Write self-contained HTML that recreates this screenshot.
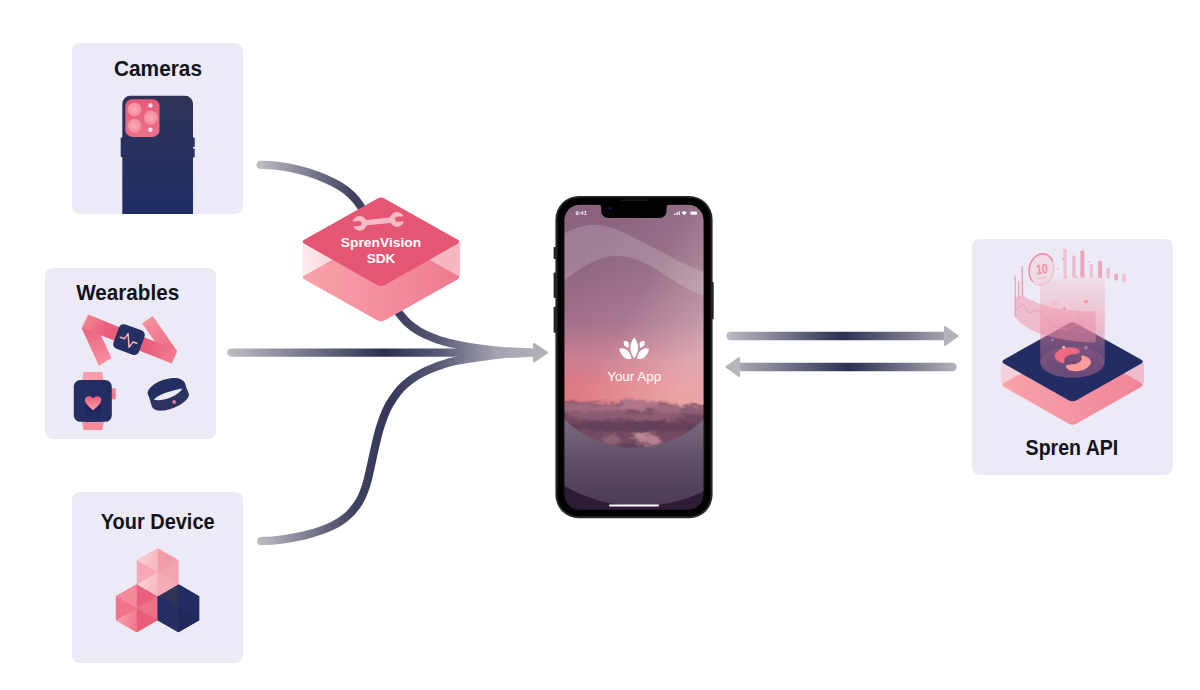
<!DOCTYPE html>
<html lang="en">
<head>
<meta charset="utf-8">
<title>Spren Architecture</title>
<style>
html,body{margin:0;padding:0;background:#fff;}
body{width:1200px;height:690px;overflow:hidden;font-family:"Liberation Sans",sans-serif;}
svg{display:block;}
text{font-family:"Liberation Sans",sans-serif;}
.title{font-weight:bold;font-size:22px;fill:#12131c;}
</style>
</head>
<body>
<svg width="1200" height="690" viewBox="0 0 1200 690">
<defs>
  <linearGradient id="gFlowTop" gradientUnits="userSpaceOnUse" x1="258" y1="0" x2="548" y2="0">
    <stop offset="0" stop-color="#bdbdc5"/><stop offset="0.33" stop-color="#40435f"/><stop offset="0.45" stop-color="#34375a"/><stop offset="0.62" stop-color="#585a76"/><stop offset="0.82" stop-color="#a3a3b0"/><stop offset="1" stop-color="#b2b2ba"/>
  </linearGradient>
  <linearGradient id="gFlowMid" gradientUnits="userSpaceOnUse" x1="228" y1="0" x2="548" y2="0">
    <stop offset="0" stop-color="#bdbdc5"/><stop offset="0.49" stop-color="#2c2f50"/><stop offset="0.66" stop-color="#585a76"/><stop offset="0.84" stop-color="#a3a3b0"/><stop offset="1" stop-color="#b2b2ba"/>
  </linearGradient>
  <linearGradient id="gArrR" gradientUnits="userSpaceOnUse" x1="727" y1="0" x2="958" y2="0">
    <stop offset="0" stop-color="#bdbdc5"/><stop offset="0.5" stop-color="#2c2f50"/><stop offset="1" stop-color="#b2b2ba"/>
  </linearGradient>
  <linearGradient id="gArrR2" gradientUnits="userSpaceOnUse" x1="727" y1="0" x2="958" y2="0">
    <stop offset="0" stop-color="#b5b5bd"/><stop offset="0.53" stop-color="#2c2f50"/><stop offset="1" stop-color="#b5b5bd"/>
  </linearGradient>
  <linearGradient id="gPhoneBack" x1="0" y1="0" x2="0" y2="1">
    <stop offset="0" stop-color="#2f3358"/><stop offset="1" stop-color="#1f2d66"/>
  </linearGradient>

  <linearGradient id="gBump" x1="0" y1="0" x2="0" y2="1">
    <stop offset="0" stop-color="#e55b7a"/><stop offset="1" stop-color="#ee7088"/>
  </linearGradient>
  <radialGradient id="gLens" cx="0.5" cy="0.5" r="0.5">
    <stop offset="0" stop-color="#f8aab4"/><stop offset="1" stop-color="#f48c9c"/>
  </radialGradient>

  <linearGradient id="gStrapL" gradientUnits="userSpaceOnUse" x1="90" y1="325" x2="104" y2="362">
    <stop offset="0" stop-color="#e9607d"/><stop offset="1" stop-color="#f68e9e"/>
  </linearGradient>
  <linearGradient id="gStrapR" gradientUnits="userSpaceOnUse" x1="148" y1="318" x2="172" y2="358">
    <stop offset="0" stop-color="#f7929f"/><stop offset="1" stop-color="#ea627e"/>
  </linearGradient>
  <linearGradient id="gStrapM" gradientUnits="userSpaceOnUse" x1="86" y1="320" x2="174" y2="357">
    <stop offset="0" stop-color="#f4808f"/><stop offset="0.25" stop-color="#e85e7b"/><stop offset="0.7" stop-color="#e85e7b"/><stop offset="1" stop-color="#f27c90"/>
  </linearGradient>
  <linearGradient id="gHeart" x1="0" y1="0" x2="0" y2="1">
    <stop offset="0" stop-color="#e85e7b"/><stop offset="1" stop-color="#f9a0a8"/>
  </linearGradient>

  <linearGradient id="gSdkBot" gradientUnits="userSpaceOnUse" x1="302" y1="0" x2="460" y2="0">
    <stop offset="0" stop-color="#f9a3aa"/><stop offset="1" stop-color="#ee7a8f"/>
  </linearGradient>
  <linearGradient id="gSdkWallL" gradientUnits="userSpaceOnUse" x1="302" y1="0" x2="333" y2="0">
    <stop offset="0" stop-color="#fdeef0"/><stop offset="1" stop-color="#f9d3da"/>
  </linearGradient>

  <linearGradient id="gFrame" x1="0" y1="0" x2="1" y2="0">
    <stop offset="0" stop-color="#33353d"/><stop offset="0.03" stop-color="#15161a"/><stop offset="0.97" stop-color="#15161a"/><stop offset="1" stop-color="#33353d"/>
  </linearGradient>
  <linearGradient id="gSkyV" gradientUnits="userSpaceOnUse" x1="0" y1="204" x2="0" y2="404">
    <stop offset="0" stop-color="#8a6280"/><stop offset="0.3" stop-color="#8f667f"/><stop offset="0.6" stop-color="#a26d8a"/><stop offset="0.78" stop-color="#c87a8d"/><stop offset="0.9" stop-color="#dc747f"/><stop offset="1" stop-color="#dc7279"/>
  </linearGradient>
  <linearGradient id="gSkyH" gradientUnits="userSpaceOnUse" x1="574" y1="270" x2="704" y2="345">
    <stop offset="0" stop-color="#ffe6e0" stop-opacity="0"/><stop offset="0.45" stop-color="#ffe6e0" stop-opacity="0.08"/><stop offset="1" stop-color="#ffe6e0" stop-opacity="0.42"/>
  </linearGradient>
  <filter id="fCloud" x="-5%" y="-10%" width="110%" height="120%">
    <feTurbulence type="fractalNoise" baseFrequency="0.09 0.16" numOctaves="3" seed="7" result="n"/>
    <feGaussianBlur in="SourceGraphic" stdDeviation="1.6" result="b"/>
    <feDisplacementMap in="b" in2="n" scale="9" xChannelSelector="R" yChannelSelector="G"/>
  </filter>
  <clipPath id="clipLower"><rect x="550" y="398" width="170" height="125"/></clipPath>
  <linearGradient id="gOverlay" gradientUnits="userSpaceOnUse" x1="0" y1="415" x2="0" y2="505">
    <stop offset="0" stop-color="#7f7187"/><stop offset="0.5" stop-color="#5f5068"/><stop offset="1" stop-color="#483b52"/>
  </linearGradient>

  <linearGradient id="gApiBot" gradientUnits="userSpaceOnUse" x1="1000" y1="0" x2="1145" y2="0">
    <stop offset="0" stop-color="#f9a3aa"/><stop offset="1" stop-color="#ef8498"/>
  </linearGradient>
  <linearGradient id="gBeam" gradientUnits="userSpaceOnUse" x1="0" y1="272" x2="0" y2="378">
    <stop offset="0" stop-color="#f4a9b9" stop-opacity="0"/><stop offset="0.12" stop-color="#f4a9b9" stop-opacity="0.3"/><stop offset="0.5" stop-color="#ee89a0" stop-opacity="0.5"/><stop offset="0.75" stop-color="#d57a9a" stop-opacity="0.4"/><stop offset="1" stop-color="#b56a92" stop-opacity="0.3"/>
  </linearGradient>
  <linearGradient id="gHShadow" gradientUnits="userSpaceOnUse" x1="0" y1="402" x2="0" y2="422">
    <stop offset="0" stop-color="#19234f"/><stop offset="1" stop-color="#222e68"/>
  </linearGradient>
  <linearGradient id="gHexLt" gradientUnits="userSpaceOnUse" x1="137" y1="584" x2="158" y2="590">
    <stop offset="0" stop-color="#fbd0d5"/><stop offset="1" stop-color="#f5aab6"/>
  </linearGradient>
  <linearGradient id="gHexLt2" gradientUnits="userSpaceOnUse" x1="140" y1="558" x2="158" y2="566">
    <stop offset="0" stop-color="#fbccd2"/><stop offset="1" stop-color="#f7b4be"/>
  </linearGradient>
  <linearGradient id="gHexBl" gradientUnits="userSpaceOnUse" x1="116" y1="621" x2="137" y2="626">
    <stop offset="0" stop-color="#f8a3ab"/><stop offset="1" stop-color="#ef748b"/>
  </linearGradient>
</defs>

<!-- cards -->
<rect x="72" y="43" width="171" height="171" rx="8" fill="#eceaf6"/>
<rect x="45" y="268" width="171" height="171" rx="8" fill="#eceaf6"/>
<rect x="72" y="492" width="171" height="171" rx="8" fill="#eceaf6"/>
<rect x="972" y="239" width="201" height="236" rx="8" fill="#eceaf6"/>

<text class="title" x="114" y="75.8" textLength="88" lengthAdjust="spacingAndGlyphs">Cameras</text>
<text class="title" x="76.2" y="299.7" textLength="103" lengthAdjust="spacingAndGlyphs">Wearables</text>
<text class="title" x="100.7" y="528.6" textLength="113.9" lengthAdjust="spacingAndGlyphs">Your Device</text>
<text class="title" x="1025.6" y="455" textLength="92.7" lengthAdjust="spacingAndGlyphs">Spren API</text>


<!-- CAMERA PHONE -->
<g id="camphone">
  <clipPath id="clipCard1"><rect x="72" y="43" width="171" height="171" rx="8"/></clipPath>
  <g clip-path="url(#clipCard1)">
    <rect x="120.7" y="137.5" width="3" height="19.5" rx="0.8" fill="#2a3160"/>
    <rect x="191.5" y="137.5" width="3.2" height="9.5" rx="0.8" fill="#2a3160"/>
    <rect x="191.5" y="148.4" width="3.2" height="9.2" rx="0.8" fill="#2a3160"/>
    <path d="M122.3,220 V103.8 a8,8 0 0 1 8,-8 h54.7 a8,8 0 0 1 8,8 V220 Z" fill="url(#gPhoneBack)"/>
    <rect x="125.4" y="99.3" width="34.1" height="37.6" rx="7" fill="url(#gBump)"/>
    <circle cx="134.5" cy="109.4" r="7" fill="url(#gLens)"/>
    <circle cx="134.5" cy="125.7" r="7" fill="url(#gLens)"/>
    <circle cx="150.8" cy="117.6" r="7" fill="url(#gLens)"/>
    <circle cx="150.4" cy="105.4" r="2.2" fill="#fde9ec"/>
    <circle cx="150.4" cy="129.7" r="2.2" fill="#fde9ec"/>
  </g>
</g>


<!-- WEARABLES -->
<g id="wearables">
  <!-- chest strap -->
  <polygon points="82.3,328 94,322 110.8,357.8 99.2,364.9" fill="url(#gStrapL)" stroke="url(#gStrapL)" stroke-width="1.2" stroke-linejoin="round"/>
  <polygon points="142.8,323.4 152.7,316.8 176,350.5 170.8,362.6" fill="url(#gStrapR)" stroke="url(#gStrapR)" stroke-width="1.2" stroke-linejoin="round"/>
  <path d="M88.2,314.6 L176.4,350.3 Q177.2,351.5 176.6,352.8 L171.8,363.6 L81.9,327.8 Z" fill="url(#gStrapM)"/>
  <g transform="translate(129,339.6) rotate(20)">
    <rect x="-13.6" y="-13" width="27.2" height="26" rx="5" fill="#252f62"/>
    <path d="M-9,0.8 L-4.6,0.7 L-2.9,-5.3 L2.7,7.3 L4.6,0.8 L8.6,0.8" fill="none" stroke="#f9b4b8" stroke-width="1.5" stroke-linejoin="round" stroke-linecap="round"/>
  </g>
  <!-- watch -->
  <path d="M83.6,372 h18.6 l1.6,9 h-21.8 Z" fill="#f99ea7"/>
  <path d="M82,421 h21.8 l-1.4,9 h-19 Z" fill="#f68d9b"/>
  <rect x="111" y="388.3" width="4.8" height="11.2" rx="1.2" fill="#f27d8f"/>
  <rect x="73.8" y="380.1" width="38" height="41.7" rx="6.5" fill="#232e63"/>
  <polygon points="85.3,402 100.9,402 100.9,421.8 85.3,421.8" fill="url(#gHShadow)"/>
  <path transform="translate(0,0.9)" d="M93.1,409.3 C87,404.6 84.9,401.6 84.9,398.9 C84.9,395.2 90.3,393.8 93.1,397.4 C95.9,393.8 101.3,395.2 101.3,398.9 C101.3,401.6 99.2,404.6 93.1,409.3 Z" fill="url(#gHeart)"/>
  <!-- ring -->
  <path d="M148,393.5 C149,386 160,379 172.6,378 C179,377.6 183.5,379.5 184.9,383.8 L188.9,393.9 C189.8,400 176,409.5 161.7,410.6 C155.5,411 152.8,409 151.6,405.5 Z" fill="#2b3360"/>
  <ellipse cx="166.5" cy="389" rx="19.4" ry="9" transform="rotate(-15 166.5 389)" fill="#232e63"/>
  <path d="M153.8,399.7 C158,395 168,391 182.4,388.5 C180,393 172,398 164,399.5 C160,400.3 156,400.3 153.8,399.7 Z" fill="#eceaf6"/>
  <circle cx="174.1" cy="402" r="1.9" fill="#f4788c"/>
</g>


<!-- HEXAGONS -->
<g id="hexes">
  <polygon points="136.7,584.3 157.5,596.3 157.5,620.3 136.7,632.3 115.9,620.3 115.9,596.3" fill="#ee7189"/>
  <polygon points="136.7,608.3 136.7,584.3 157.5,596.3" fill="#ea6180"/>
  <polygon points="136.7,608.3 157.5,596.3 157.5,620.3" fill="#ee7189"/>
  <polygon points="136.7,608.3 157.5,620.3 136.7,632.3" fill="#e95d7b"/>
  <polygon points="136.7,608.3 136.7,632.3 115.9,620.3" fill="url(#gHexBl)"/>
  <polygon points="136.7,608.3 115.9,620.3 115.9,596.3" fill="#ef748b"/>
  <polygon points="136.7,608.3 115.9,596.3 136.7,584.3" fill="#f48a98"/>
  <polygon points="178.4,584.3 199.2,596.3 199.2,620.3 178.4,632.3 157.6,620.3 157.6,596.3" fill="#232d62"/>
  <polygon points="178.4,608.3 178.4,584.3 199.2,596.3" fill="#222d64"/>
  <polygon points="178.4,608.3 199.2,596.3 199.2,620.3" fill="#212c62"/>
  <polygon points="178.4,608.3 199.2,620.3 178.4,632.3" fill="#1e285a"/>
  <polygon points="178.4,608.3 178.4,632.3 157.6,620.3" fill="#252f62"/>
  <polygon points="178.4,608.3 157.6,620.3 157.6,596.3" fill="#242e62"/>
  <polygon points="178.4,608.3 157.6,596.3 178.4,584.3" fill="#2f3358"/>
  <polygon points="157.7,548.3 178.5,560.3 178.5,584.3 157.7,596.3 136.9,584.3 136.9,560.3" fill="#f5a7b4"/>
  <polygon points="157.7,572.3 157.7,548.3 178.5,560.3" fill="#f39cab"/>
  <polygon points="157.7,572.3 178.5,560.3 178.5,584.3" fill="#f4a3b0"/>
  <polygon points="157.7,572.3 178.5,584.3 157.7,596.3" fill="#f29aaa"/>
  <polygon points="157.7,572.3 157.7,596.3 136.9,584.3" fill="url(#gHexLt)"/>
  <polygon points="157.7,572.3 136.9,584.3 136.9,560.3" fill="#f5a7b4"/>
  <polygon points="157.7,572.3 136.9,560.3 157.7,548.3" fill="url(#gHexLt2)"/>
  <polygon points="157.7,596.3 136.9,584.3 157.7,572.3 178.5,584.3" fill="#fbd3d8" opacity="0.3"/>
</g>

<!-- FLOW -->
<g id="flow" fill="none" stroke-linecap="round" stroke-width="8.2">
  <path d="M260.6,164.9 C262.7,165.0 268.3,164.8 273.3,165.3 C278.3,165.8 285.0,166.7 290.8,167.9 C296.6,169.1 302.5,170.6 308.3,172.4 C314.1,174.2 320.6,176.6 325.8,178.9 C331.1,181.2 335.5,183.3 339.8,186.0 C344.1,188.7 348.0,191.6 351.5,195.0 C355.0,198.4 358.3,202.3 360.8,206.5 C363.3,210.7 364.8,214.7 366.5,220.0 C368.2,225.3 369.5,231.8 371.0,238.3 C372.5,244.8 373.9,252.4 375.4,258.9 C376.9,265.4 378.1,271.5 380.0,277.4 C381.9,283.3 384.3,289.9 386.5,294.5 C388.7,299.1 390.7,301.7 393.0,305.0 C395.3,308.3 397.5,311.4 400.1,314.5 C402.7,317.6 405.7,321.1 408.8,323.9 C411.9,326.7 414.9,328.8 419.0,331.2 C423.1,333.6 428.7,336.1 433.5,338.0 C438.3,339.9 443.2,341.3 448.0,342.6 C452.8,343.9 457.2,344.7 462.5,345.7 C467.8,346.7 473.4,347.6 480.0,348.5 C486.6,349.4 493.7,350.3 502.0,351.0 C510.3,351.7 525.3,352.2 530.0,352.5" stroke="url(#gFlowTop)"/>
  <path d="M261.2,541.0 C263.0,540.9 268.1,540.9 272.0,540.6 C275.9,540.3 278.8,540.1 284.8,539.1 C290.8,538.1 300.3,536.6 308.0,534.5 C315.7,532.4 324.6,529.5 331.2,526.4 C337.8,523.3 342.8,520.1 347.4,516.0 C352.0,511.9 355.9,507.0 359.0,502.0 C362.1,497.0 364.1,491.6 366.0,485.8 C367.9,480.0 369.1,473.8 370.6,467.2 C372.1,460.6 373.6,453.0 375.2,446.4 C376.8,439.8 378.0,434.0 379.9,427.8 C381.8,421.6 384.5,414.3 386.8,409.3 C389.1,404.3 391.1,401.5 393.5,398.0 C395.9,394.5 398.2,391.3 401.0,388.3 C403.8,385.3 407.2,382.5 410.5,380.0 C413.8,377.5 417.1,375.6 421.0,373.5 C424.9,371.4 428.9,369.5 434.2,367.5 C439.5,365.5 445.6,363.2 453.0,361.5 C460.4,359.8 470.2,358.5 478.3,357.3 C486.4,356.1 493.1,355.1 501.7,354.3 C510.3,353.5 525.3,353.0 530.0,352.7" stroke="url(#gFlowTop)"/>
  <path d="M231.3,352.6 L536,352.6" stroke="url(#gFlowMid)"/>
</g>
<polygon points="534,343.9 547,352.6 534,361.3" fill="#b0b0b8" stroke="#b0b0b8" stroke-width="2" stroke-linejoin="round"/>


<!-- SDK BOX -->
<g id="sdk">
  <!-- bottom face -->
  <path d="M377.1,234.1 Q381.0,231.9 384.9,234.1 L457.4,275.0 Q461.3,277.2 457.4,279.4 L384.9,320.3 Q381.0,322.5 377.1,320.3 L304.6,279.4 Q300.7,277.2 304.6,275.0 Z" fill="url(#gSdkBot)"/>
  <!-- side translucent walls (visible outside bottom face) -->
  <path d="M301.9,242.6 L333,259.6 L303.8,275.7 Q301.9,276.7 301.9,274.6 Z" fill="url(#gSdkWallL)"/>
  <path d="M460.1,242.6 L429,259.6 L458.2,275.7 Q460.1,276.7 460.1,274.6 Z" fill="#f6b6c4"/>
  <!-- top face -->
  <path d="M377.1,198.7 Q381.0,196.5 384.9,198.7 L457.4,239.6 Q461.3,241.8 457.4,244.0 L384.9,284.9 Q381.0,287.1 377.1,284.9 L304.6,244.0 Q300.7,241.8 304.6,239.6 Z" fill="#e55673"/>
  <!-- wrench -->
  <g transform="translate(378.3,221.4) rotate(-6.1)" fill="#f8bac7">
    <rect x="-16" y="-2.7" width="32" height="5.4"/>
    <path d="M-25.66,-2.5 A7.3,7.3 0 1 1 -25.66,2.5 L-19.40,2.5 A2.5,2.5 0 0 0 -19.40,-2.5 Z"/>
    <path d="M25.66,-2.5 A7.3,7.3 0 1 0 25.66,2.5 L19.40,2.5 A2.5,2.5 0 0 1 19.40,-2.5 Z"/>
  </g>
  <text x="381" y="246.6" text-anchor="middle" font-size="13.6" font-weight="bold" fill="#fff" textLength="80.5" lengthAdjust="spacingAndGlyphs">SprenVision</text>
  <text x="381" y="263.4" text-anchor="middle" font-size="13.6" font-weight="bold" fill="#fff">SDK</text>
</g>


<!-- API ILLUSTRATION -->
<g id="api">
  <!-- bottom pink slab -->
  <path d="M1068.2,346.5 Q1072.6,344.0 1077.0,346.5 L1140.6,382.3 Q1145.0,384.8 1140.7,387.3 L1076.9,423.5 Q1072.6,426.0 1068.3,423.5 L1004.5,387.3 Q1000.2,384.8 1004.6,382.3 Z" fill="url(#gApiBot)"/>
  <path d="M1001.4,362.4 L1020.6,373.2 L1003.2,383.2 Q1001.2,384.2 1001.2,382 Z" fill="#f4d0da"/>
  <path d="M1143.8,362.4 L1124.6,373.2 L1142,383.2 Q1144,384.200 1144,382 Z" fill="#f0bccb"/>
  <!-- navy top -->
  <path d="M1068.2,323.7 Q1072.6,321.3 1077.0,323.7 L1140.6,359.2 Q1145.0,361.6 1140.6,364.1 L1077.0,400.1 Q1072.6,402.6 1068.2,400.1 L1004.6,364.1 Q1000.2,361.6 1004.6,359.2 Z" fill="#222d63"/>
  <!-- base ellipse & logo -->
  <ellipse cx="1072.500" cy="362.300" rx="32.300" ry="15.500" fill="#463a6b"/>
  <ellipse cx="1072.500" cy="360" rx="26" ry="11.500" fill="#3f3466" opacity="0.6"/>
  <!-- curved panel -->
  <path d="M1015.200,297.400 L1023,295.700 C1030,300 1040,304.500 1052,307.500 C1066,310.500 1082,311.300 1095.700,311.300 L1095.700,342.600 C1080,342.600 1062,340 1046,335.500 C1032,331.500 1020,324 1015.200,316.500 Z" fill="#ee8ea3" opacity="0.5"/>
  <path d="M1017,309 L1023,304 L1029,313 L1038,309.500 L1052,326 L1066,329.500 L1088,318.500" fill="none" stroke="#ee8a9e" stroke-width="0.8" opacity="0.7"/>
  <rect x="1014.600" y="275.500" width="1.300" height="41" fill="#ef97a8" opacity="0.85"/>
  <rect x="1018" y="281" width="1.300" height="17" fill="#ef97a8" opacity="0.85"/>
  <rect x="1021.500" y="266" width="1.500" height="30" fill="#ef97a8" opacity="0.85"/>
  <!-- beam -->
  <path d="M1040.200,272 H1104.800 V362.300 a32.300,15.500 0 0 1 -64.600,0 Z" fill="url(#gBeam)"/>
  <path d="M1079.2,350.3 C1078.4,349.5 1076.5,348.2 1074.3,347.7 C1072.2,347.3 1069.1,347.3 1066.5,347.7 C1063.9,348.2 1060.7,349.2 1058.7,350.5 C1056.7,351.9 1054.9,354.0 1054.7,355.7 C1054.5,357.4 1055.9,359.5 1057.5,360.8 C1059.0,362.0 1062.8,363.5 1063.9,363.2 C1065.1,362.9 1063.7,360.4 1064.4,359.0 C1065.2,357.7 1066.8,356.1 1068.6,355.2 C1070.4,354.4 1073.5,354.4 1075.2,354.0 C1077.0,353.6 1078.4,353.6 1079.0,353.0 C1079.7,352.3 1080.0,351.2 1079.2,350.3Z" fill="#ee6a82"/>
  <path d="M1066.2,367.4 C1066.8,368.3 1068.4,369.9 1070.3,370.5 C1072.3,371.2 1075.2,371.5 1077.8,371.2 C1080.4,370.9 1083.8,370.1 1086.0,368.8 C1088.2,367.4 1090.5,364.9 1090.9,363.0 C1091.2,361.2 1089.8,359.1 1088.3,357.8 C1086.8,356.6 1083.0,355.2 1081.8,355.6 C1080.7,355.9 1082.3,358.8 1081.5,360.1 C1080.7,361.4 1078.8,362.8 1077.0,363.6 C1075.1,364.3 1072.1,364.3 1070.3,364.6 C1068.6,364.9 1067.2,364.8 1066.5,365.3 C1065.8,365.8 1065.5,366.5 1066.2,367.4Z" fill="#fc9c9c"/>
  <!-- bars -->
  <g fill="#ee8ea3">
    <rect x="1063.400" y="249" width="3.500" height="29.600" opacity="0.42"/>
    <rect x="1072.100" y="256" width="3.500" height="21.600" opacity="0.45"/>
    <rect x="1080.400" y="250.800" width="3.900" height="26.800" opacity="0.75"/>
    <rect x="1089.500" y="264.300" width="3.500" height="13.300" opacity="0.45"/>
    <rect x="1098.200" y="260.900" width="3.800" height="17" opacity="0.75"/>
    <rect x="1106.500" y="267.800" width="3.500" height="10.800" opacity="0.45"/>
    <rect x="1114.500" y="273.900" width="3.500" height="6.400" opacity="0.7"/>
    <rect x="1122.200" y="273.900" width="3.500" height="7.800" opacity="0.45"/>
  </g>
  <!-- circle 10 -->
  <g transform="translate(1041.500,269.500) rotate(12)">
    <ellipse cx="0" cy="0" rx="12.300" ry="15.800" fill="#f3cdd8" fill-opacity="0.55" stroke="#f0a3b3" stroke-width="0.700"/>
    <path d="M-6.150,13.680 A12.300,15.800 0 1 1 9.420,-10.160" fill="none" stroke="#ee8a9d" stroke-width="1.400"/>
  </g>
  <text x="1041.900" y="273.800" text-anchor="middle" font-size="14" font-weight="bold" fill="#ee8fa1" textLength="11.600" lengthAdjust="spacingAndGlyphs" transform="rotate(-7 1041.900 269)">10</text>
  <path d="M1037.400,278.800 L1046.200,277" stroke="#ee8fa1" stroke-width="0.900" stroke-dasharray="1.200 0.500" fill="none" opacity="0.9"/>
  <!-- dots -->
  <g fill="#f98f8f">
    <circle cx="1086" cy="301.400" r="1.900" opacity="0.9"/>
    <circle cx="1064.300" cy="308.500" r="1.500" opacity="0.8"/>
    <circle cx="1055" cy="303.300" r="2.600" fill="#f7b7c0" opacity="0.8"/>
    <circle cx="1074" cy="314.500" r="1.700" fill="#f7b7c0" opacity="0.7"/>
    <circle cx="1063" cy="259" r="1" opacity="0.7"/>
    <circle cx="1058" cy="269" r="0.800" opacity="0.7"/>
    <circle cx="1089" cy="262" r="0.800" opacity="0.7"/>
    <circle cx="1073.500" cy="254.500" r="0.700" opacity="0.7"/>
    <circle cx="1076.500" cy="277" r="1.300" fill="#f7b7c0" opacity="0.9"/>
    <circle cx="1084.500" cy="275" r="1.100" fill="#f7b7c0" opacity="0.9"/>
    <circle cx="1063.700" cy="347.300" r="1.500" fill="#f9c0c4" opacity="0.95"/>
    <circle cx="1086" cy="347.500" r="1.700" fill="#b08aa0" opacity="0.9"/>
    <circle cx="1052.500" cy="340" r="1.400" fill="#b08aa0" opacity="0.8"/>
  </g>
</g>

<!-- right arrows -->
<path d="M730.5,336 L946,336" stroke="url(#gArrR)" stroke-width="8.4" stroke-linecap="round" fill="none"/>
<polygon points="945,327 957.3,336 945,345" fill="#b2b2ba" stroke="#b2b2ba" stroke-width="2" stroke-linejoin="round"/>
<path d="M739,367 L952.5,367" stroke="url(#gArrR2)" stroke-width="8.4" stroke-linecap="round" fill="none"/>
<polygon points="739,358 726.4,367 739,376" fill="#b5b5bd" stroke="#b5b5bd" stroke-width="2" stroke-linejoin="round"/>

<!-- PHONE -->
<g id="phone">
  <!-- side buttons -->
  <rect x="553.6" y="247" width="3" height="12" rx="1" fill="#22232a"/>
  <rect x="553.6" y="272.600" width="3" height="25.400" rx="1" fill="#22232a"/>
  <rect x="553.6" y="306.700" width="3" height="26" rx="1" fill="#22232a"/>
  <rect x="710.6" y="282" width="3.100" height="37.300" rx="1" fill="#22232a"/>
  <rect x="555.4" y="195.9" width="157.2" height="322.4" rx="23.5" fill="#26282f"/>
  <rect x="557.4" y="197.700" width="153.200" height="318.600" rx="21.600" fill="#020203"/>
  <clipPath id="clipScreen"><rect x="563.8" y="204.2" width="140.4" height="306.2" rx="16"/></clipPath>
  <g clip-path="url(#clipScreen)">
    <rect x="563" y="204" width="142" height="307" fill="url(#gSkyV)"/>
    <rect x="563" y="204" width="142" height="307" fill="url(#gSkyH)"/>
    <!-- wave band -->
    <path d="M563,234 C575,228 585,224.5 595,224.8 C615,225.5 630,236 652,247 C672,257 690,268 705,272 L705,296 C690,292 678,283 662,273 C645,262 632,256 616,256 C598,256 580,268 563,282 Z" fill="#fff" opacity="0.17"/>
    <!-- clouds -->
    <g filter="url(#fCloud)" transform="translate(0,2.5)">
      <path d="M555,401 C570,397 585,399 600,400.500 C612,401 622,398 634,397 C646,396.500 655,399 668,401 C682,403 695,404 712,403 V520 H555 Z" fill="#74495f"/>
      <ellipse cx="580" cy="405" rx="20" ry="4.500" fill="#a06a7d"/>
      <ellipse cx="612" cy="406" rx="18" ry="4.500" fill="#a56d80"/>
      <ellipse cx="640" cy="402.500" rx="20" ry="5" fill="#b0778a"/>
      <ellipse cx="668" cy="406.500" rx="18" ry="4" fill="#a06a7e"/>
      <ellipse cx="694" cy="408" rx="14" ry="3.500" fill="#8e5f76"/>
      <ellipse cx="600" cy="413" rx="34" ry="4" fill="#8a5b71"/>
      <ellipse cx="655" cy="414" rx="30" ry="4" fill="#8d5d72"/>
      <ellipse cx="634" cy="424" rx="75" ry="5" fill="#64405a"/>
      <ellipse cx="648" cy="437.500" rx="13" ry="6.500" fill="#b58091"/>
      <ellipse cx="640" cy="433" rx="8" ry="4" fill="#bb8796"/>
      <ellipse cx="611" cy="437" rx="10" ry="4.500" fill="#8c6277"/>
      <ellipse cx="634" cy="470" rx="80" ry="28" fill="#5d4258"/>
    </g>
    <!-- overlays: outside inner circle -->
    <g clip-path="url(#clipLower)">
      <path d="M500,100 H780 V600 H500 Z M634,246.5 a100.5,100.5 0 1 0 0.01,0 Z" fill-rule="evenodd" fill="url(#gOverlay)" opacity="0.9"/>
      <path d="M500,100 H780 V600 H500 Z M639,205.2 a150.4,150.4 0 1 0 0.01,0 Z" fill-rule="evenodd" fill="#2e1c35"/>
    </g>
    <!-- home indicator -->
    <rect x="609" y="504.4" width="50" height="2" rx="1" fill="#fff"/>
  </g>
  <rect x="563.8" y="204.2" width="140.4" height="306.2" rx="16" fill="none" stroke="#020203" stroke-width="1.2"/>
  <!-- notch -->
  <rect x="620.5" y="199.700" width="28" height="0.900" rx="0.400" fill="#2c2d33"/>
  <path d="M598,203.5 H670 V204.5 C667.5,204.5 666.5,205.5 666.5,208 V211 a7,7 0 0 1 -7,7 H608.2 a7,7 0 0 1 -7,-7 V208 C601.2,205.5 600.2,204.5 598,204.5 Z" fill="#020203"/>
  <circle cx="610" cy="208.3" r="1.3" fill="#1a2150"/>
  <!-- status bar -->
  <text x="575.6" y="215.2" font-size="5.6" font-weight="bold" fill="#fff" opacity="0.95">9:41</text>
  <g fill="#fff" opacity="0.95">
    <rect x="674" y="213.6" width="1" height="1.4"/><rect x="675.6" y="212.8" width="1" height="2.2"/><rect x="677.2" y="212" width="1" height="3"/><rect x="678.8" y="211.2" width="1" height="3.8"/>
    <path d="M681.6,212.6 a3.6,3.6 0 0 1 5.2,0 l-2.6,2.6 Z"/>
    <rect x="690.4" y="211.4" width="6.6" height="3.4" rx="0.9"/>
  </g>
  <!-- lotus -->
  <g fill="#fff" transform="translate(634.2,0)">
    <path d="M0,337.4 C2.6,340.5 3.9,344.5 3.9,347.8 C3.9,351.5 2.4,355.5 0,358.3 C-2.4,355.5 -3.9,351.5 -3.9,347.8 C-3.9,344.5 -2.6,340.5 0,337.4 Z"/>
    <path d="M-14.9,348.8 C-11.5,347.4 -7.5,349 -5.2,352.3 C-3.9,354.2 -3,356.6 -2.7,358.7 C-5,359.2 -8,358.8 -10,357.4 C-12.6,355.5 -14.3,352 -14.9,348.8 Z"/>
    <path d="M14.9,348.8 C11.5,347.4 7.5,349 5.2,352.3 C3.9,354.2 3,356.6 2.7,358.7 C5,359.2 8,358.8 10,357.4 C12.6,355.5 14.3,352 14.9,348.8 Z"/>
    <path d="M-10.4,340.9 C-8.6,340.9 -6.6,341.4 -5.7,342.2 C-5.3,344 -5.4,346.3 -5.9,347.9 C-7.6,347.3 -9.2,346.3 -10,345.2 C-10.6,343.8 -10.7,342.2 -10.4,340.9 Z"/>
    <path d="M10.4,340.9 C8.6,340.9 6.6,341.4 5.7,342.2 C5.3,344 5.4,346.3 5.9,347.9 C7.6,347.3 9.2,346.3 10,345.2 C10.6,343.8 10.7,342.2 10.4,340.9 Z"/>
  </g>
  <text x="634.2" y="380.9" text-anchor="middle" font-size="12" fill="#fff" textLength="54" lengthAdjust="spacingAndGlyphs">Your App</text>
</g>
</svg>
</body>
</html>
